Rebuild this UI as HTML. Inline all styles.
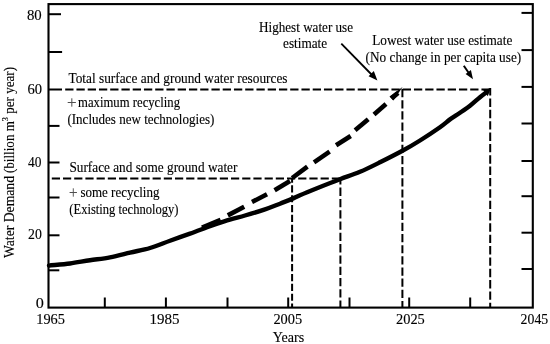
<!DOCTYPE html>
<html><head><meta charset="utf-8"><style>
html,body{margin:0;padding:0;background:#fff;width:550px;height:344px;overflow:hidden}
svg{display:block}
text{font-family:"Liberation Serif","Times New Roman",serif;fill:#000;stroke:#000;stroke-width:0.12px}
</style></head><body>
<svg width="550" height="344" viewBox="0 0 550 344">
<rect x="48.5" y="4.1" width="484.29999999999995" height="303.5" fill="none" stroke="#000" stroke-width="2.1"/>
<line x1="48.5" y1="14.2" x2="61" y2="14.2" stroke="#000" stroke-width="2"/>
<line x1="48.5" y1="52" x2="62.1" y2="52" stroke="#000" stroke-width="2"/>
<line x1="48.5" y1="89.5" x2="62" y2="89.5" stroke="#000" stroke-width="2"/>
<line x1="48.5" y1="125.9" x2="59.5" y2="125.9" stroke="#000" stroke-width="2"/>
<line x1="48.5" y1="162.5" x2="59.5" y2="162.5" stroke="#000" stroke-width="2"/>
<line x1="48.5" y1="197.5" x2="59.5" y2="197.5" stroke="#000" stroke-width="2"/>
<line x1="48.5" y1="235.3" x2="59.5" y2="235.3" stroke="#000" stroke-width="2"/>
<line x1="48.5" y1="270.3" x2="59.3" y2="270.3" stroke="#000" stroke-width="2"/>
<line x1="521.5" y1="12.9" x2="532.8" y2="12.9" stroke="#000" stroke-width="2"/>
<line x1="521.5" y1="50.1" x2="532.8" y2="50.1" stroke="#000" stroke-width="2"/>
<line x1="521.5" y1="86.9" x2="532.8" y2="86.9" stroke="#000" stroke-width="2"/>
<line x1="521.5" y1="123.5" x2="532.8" y2="123.5" stroke="#000" stroke-width="2"/>
<line x1="521.5" y1="161" x2="532.8" y2="161" stroke="#000" stroke-width="2"/>
<line x1="521.5" y1="196.2" x2="532.8" y2="196.2" stroke="#000" stroke-width="2"/>
<line x1="521.5" y1="232.7" x2="532.8" y2="232.7" stroke="#000" stroke-width="2"/>
<line x1="521.5" y1="269" x2="532.8" y2="269" stroke="#000" stroke-width="2"/>
<line x1="104.8" y1="297.5" x2="104.8" y2="307.6" stroke="#000" stroke-width="2"/>
<line x1="165.9" y1="297.5" x2="165.9" y2="307.6" stroke="#000" stroke-width="2"/>
<line x1="227.5" y1="297.5" x2="227.5" y2="307.6" stroke="#000" stroke-width="2"/>
<line x1="288.2" y1="297.5" x2="288.2" y2="307.6" stroke="#000" stroke-width="2"/>
<line x1="349.5" y1="297.5" x2="349.5" y2="307.6" stroke="#000" stroke-width="2"/>
<line x1="409.2" y1="297.5" x2="409.2" y2="307.6" stroke="#000" stroke-width="2"/>
<line x1="470.2" y1="297.5" x2="470.2" y2="307.6" stroke="#000" stroke-width="2"/>
<line x1="65.2" y1="89.6" x2="490.8" y2="89.6" stroke="#000" stroke-width="2" stroke-dasharray="8.3 2.95" fill="none"/>
<line x1="51.8" y1="178.5" x2="341" y2="178.5" stroke="#000" stroke-width="2" stroke-dasharray="8.2 3.0" fill="none"/>
<line x1="292.1" y1="178" x2="292.1" y2="307" stroke="#000" stroke-width="2" stroke-dasharray="7.2 2.65" stroke-dashoffset="2.55" fill="none"/>
<line x1="340.4" y1="178" x2="340.4" y2="307" stroke="#000" stroke-width="2" stroke-dasharray="8.3 3.0" stroke-dashoffset="1.70" fill="none"/>
<line x1="402.4" y1="87" x2="402.4" y2="307" stroke="#000" stroke-width="2" stroke-dasharray="8.2 2.95" stroke-dashoffset="9.10" fill="none"/>
<line x1="490.2" y1="88" x2="490.2" y2="307" stroke="#000" stroke-width="2" stroke-dasharray="8.4 2.95" stroke-dashoffset="0.85" fill="none"/>
<path d="M49.0,265.6 C52.5,265.2 63.2,264.4 70.0,263.5 C76.8,262.6 83.3,261.2 90.0,260.2 C96.7,259.2 103.3,258.6 110.0,257.3 C116.7,256.0 123.3,254.2 130.0,252.6 C136.7,251.0 143.3,250.0 150.0,248.0 C156.7,246.0 163.3,243.1 170.0,240.7 C176.7,238.3 183.3,236.1 190.0,233.7 C196.7,231.3 204.2,228.3 210.0,226.2 C215.8,224.1 219.2,222.9 225.0,221.1 C230.8,219.3 238.3,217.4 245.0,215.5 C251.7,213.6 259.2,211.4 265.0,209.4 C270.8,207.4 275.5,205.4 280.0,203.7 C284.5,201.9 288.7,200.3 292.0,198.9 C295.3,197.5 295.8,197.0 300.0,195.2 C304.2,193.4 310.3,190.9 317.0,188.2 C323.7,185.5 332.8,181.9 340.0,179.2 C347.2,176.5 353.3,174.6 360.0,171.8 C366.7,169.0 373.0,165.8 380.0,162.3 C387.0,158.8 395.3,154.6 402.0,151.0 C408.7,147.4 413.7,144.5 420.0,140.5 C426.3,136.5 435.0,130.7 440.0,127.2 C445.0,123.7 446.7,121.8 450.0,119.4 C453.3,117.0 456.7,115.0 460.0,112.7 C463.3,110.4 466.7,108.4 470.0,105.8 C473.3,103.2 477.2,99.5 480.0,97.2 C482.8,94.9 485.4,93.0 486.5,92.2" stroke="#000" stroke-width="4.4" fill="none" stroke-linecap="round"/>
<polygon points="490.8,88 483.2,90.2 487.8,96.2" fill="#000"/>
<line x1="202" y1="227.6" x2="220.6" y2="219.8" stroke="#000" stroke-width="4.6"/>
<line x1="227.8" y1="215.4" x2="244.2" y2="206.8" stroke="#000" stroke-width="4.6"/>
<line x1="252" y1="202" x2="267" y2="194.3" stroke="#000" stroke-width="4.6"/>
<line x1="274.6" y1="190.3" x2="290" y2="181" stroke="#000" stroke-width="4.6"/>
<line x1="292.2" y1="178" x2="307.4" y2="166.6" stroke="#000" stroke-width="4.6"/>
<line x1="314" y1="162.3" x2="329.6" y2="151.7" stroke="#000" stroke-width="4.6"/>
<line x1="336.1" y1="145.3" x2="350.7" y2="136" stroke="#000" stroke-width="4.6"/>
<line x1="355.1" y1="130.3" x2="368.2" y2="119.2" stroke="#000" stroke-width="4.6"/>
<line x1="374" y1="114.6" x2="386" y2="104.1" stroke="#000" stroke-width="4.6"/>
<line x1="391.5" y1="98.6" x2="398" y2="93" stroke="#000" stroke-width="4.6"/>
<polygon points="402.6,87 389.5,96.4 393.4,100.6" fill="#000"/>
<line x1="341.3" y1="43.6" x2="373" y2="76" stroke="#000" stroke-width="1.8"/>
<polygon points="377.4,80.6 368.6,76.2 373.8,71" fill="#000"/>
<line x1="463.8" y1="65.8" x2="470.5" y2="75.5" stroke="#000" stroke-width="2"/>
<polygon points="473,79.2 465.6,74 470.9,70" fill="#000"/>
<text transform="translate(259.10,32.20) scale(1,1.05)" font-size="13.3" textLength="93.89" lengthAdjust="spacingAndGlyphs">Highest water use</text>
<text transform="translate(283.00,48.40) scale(1,1.05)" font-size="13.3" textLength="44.12" lengthAdjust="spacingAndGlyphs">estimate</text>
<text transform="translate(372.20,45.40) scale(1,1.05)" font-size="13.3" textLength="140.11" lengthAdjust="spacingAndGlyphs">Lowest water use estimate</text>
<text transform="translate(365.60,62.00) scale(1,1.05)" font-size="13.3" textLength="155.60" lengthAdjust="spacingAndGlyphs">(No change in per capita use)</text>
<text transform="translate(68.50,83.10) scale(1,1.05)" font-size="13.3" textLength="219.00" lengthAdjust="spacingAndGlyphs">Total surface and ground water resources</text>
<text transform="translate(78.10,107.40) scale(1,1.05)" font-size="13.3" textLength="101.92" lengthAdjust="spacingAndGlyphs">maximum recycling</text>
<text transform="translate(67.40,123.80) scale(1,1.05)" font-size="13.3" textLength="146.95" lengthAdjust="spacingAndGlyphs">(Includes new technologies)</text>
<text transform="translate(69.40,171.60) scale(1,1.05)" font-size="13.3" textLength="168.01" lengthAdjust="spacingAndGlyphs">Surface and some ground water</text>
<text transform="translate(80.40,196.60) scale(1,1.05)" font-size="13.3" textLength="79.07" lengthAdjust="spacingAndGlyphs">some recycling</text>
<text transform="translate(69.30,213.80) scale(1,1.05)" font-size="13.3" textLength="109.22" lengthAdjust="spacingAndGlyphs">(Existing technology)</text>
<text transform="translate(26.90,19.90) scale(1,1.06)" font-size="13.8" textLength="14.80" lengthAdjust="spacingAndGlyphs">80</text>
<text transform="translate(27.50,93.60) scale(1,1.06)" font-size="13.8" textLength="14.60" lengthAdjust="spacingAndGlyphs">60</text>
<text transform="translate(28.10,167.00) scale(1,1.06)" font-size="13.8" textLength="13.40" lengthAdjust="spacingAndGlyphs">40</text>
<text transform="translate(28.10,238.70) scale(1,1.06)" font-size="13.8" textLength="13.80" lengthAdjust="spacingAndGlyphs">20</text>
<text transform="translate(35.80,308.20) scale(1,1.06)" font-size="13.8" textLength="8.10" lengthAdjust="spacingAndGlyphs">0</text>
<text transform="translate(36.20,323.90) scale(1,1.06)" font-size="13.8" textLength="28.80" lengthAdjust="spacingAndGlyphs">1965</text>
<text transform="translate(149.40,324.20) scale(1,1.06)" font-size="13.8" textLength="30.00" lengthAdjust="spacingAndGlyphs">1985</text>
<text transform="translate(273.40,324.20) scale(1,1.06)" font-size="13.8" textLength="28.80" lengthAdjust="spacingAndGlyphs">2005</text>
<text transform="translate(396.00,324.20) scale(1,1.06)" font-size="13.8" textLength="28.80" lengthAdjust="spacingAndGlyphs">2025</text>
<text transform="translate(520.60,324.20) scale(1,1.06)" font-size="13.8" textLength="27.60" lengthAdjust="spacingAndGlyphs">2045</text>
<text transform="translate(272.80,341.90) scale(1,1.05)" font-size="13.3" textLength="31.49" lengthAdjust="spacingAndGlyphs">Years</text>
<text transform="translate(67.00,107.60) scale(1,1.0)" font-size="17" textLength="9.60" lengthAdjust="spacingAndGlyphs" style="fill:#505050;stroke:#505050">+</text>
<text transform="translate(69.00,197.50) scale(1,1.0)" font-size="17" textLength="8.60" lengthAdjust="spacingAndGlyphs" style="fill:#505050;stroke:#505050">+</text>
<text transform="translate(13.60,258.00) rotate(-90) scale(1,1.05)" font-size="13.3" textLength="82.00" lengthAdjust="spacingAndGlyphs">Water Demand</text>
<text transform="translate(13.60,173.00) rotate(-90) scale(1,1.05)" font-size="13.3" textLength="106.00" lengthAdjust="spacingAndGlyphs">(billion m<tspan font-size="8.5" dy="-5.5">3</tspan><tspan dy="5.5"> per year)</tspan></text>
</svg>
</body></html>
